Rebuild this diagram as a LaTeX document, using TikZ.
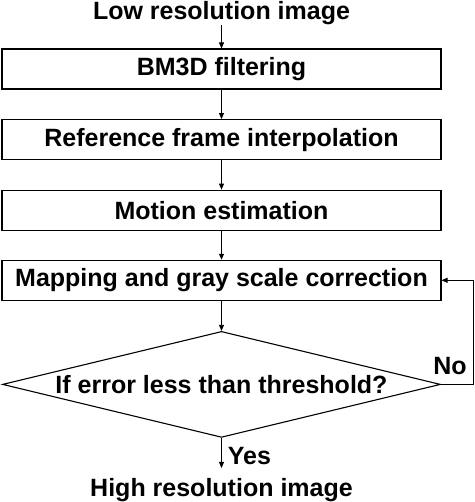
\documentclass[tikz,border=0pt]{standalone}
\usepackage{fontspec}
\setmainfont{Liberation Sans}
\usetikzlibrary{shapes.geometric, arrows.meta, positioning}
\tikzset{
    stepbox/.style={
        rectangle,
        minimum width=439pt,
        minimum height=40pt,
        inner sep=0pt,
        text centered,
        draw=black,
        line width=1.1pt,
        font=\fontsize{25}{30}\selectfont\bfseries
    },
    decision/.style={
        diamond,
        aspect=4.13,
        minimum width=438pt,
        minimum height=106pt,
        inner sep=0pt,
        draw=black,
        line width=1.1pt,
        font=\fontsize{25}{30}\selectfont\bfseries
    },
    io/.style={
        inner sep=0pt,
        font=\fontsize{25}{30}\selectfont\bfseries
    },
    arrow/.style={
        line width=0.8pt,
        -{Triangle[length=6pt,width=5pt]}
    }
}

\begin{document}
\begin{tikzpicture}[node distance=29.5pt]
\useasboundingbox (0,0) rectangle (474pt,-502pt);

% Nodes
\node (filter) [stepbox] at (221.5pt,-69pt) {BM3D filtering};
\node (interp) [stepbox, below=of filter] {Reference frame interpolation};
\node (motion) [stepbox, below=of interp] {Motion estimation};
\node (mapping) [stepbox, below=29pt of motion] {Mapping and gray scale correction};
\node (check) [decision, below=30pt of mapping] {If error less than threshold?};
\node (input) [io, above=23pt of filter] {Low resolution image};
\node (output) [io, below=40pt of check] {High resolution image};
\coordinate (loopdown) at ([xshift=32pt]check.east);
\coordinate (loopup) at (loopdown |- mapping.east);

% Arrows
\draw[arrow] (input) -- (filter);
\draw[arrow] (filter) -- (interp);
\draw[arrow] (interp) -- (motion);
\draw[arrow] (motion) -- (mapping);
\draw[arrow] (mapping) -- (check);
\draw[arrow] (check.south) -- ([yshift=10pt]output.north) node (yes) [io, right=6pt, yshift=-3pt, midway] {Yes};
\draw[arrow] (check.east) -- (loopdown) -- (loopup) -- (mapping.east);

% Labels
\node (no) [io] at ([xshift=-23pt,yshift=18pt]loopdown) {No};

\end{tikzpicture}
\end{document}
